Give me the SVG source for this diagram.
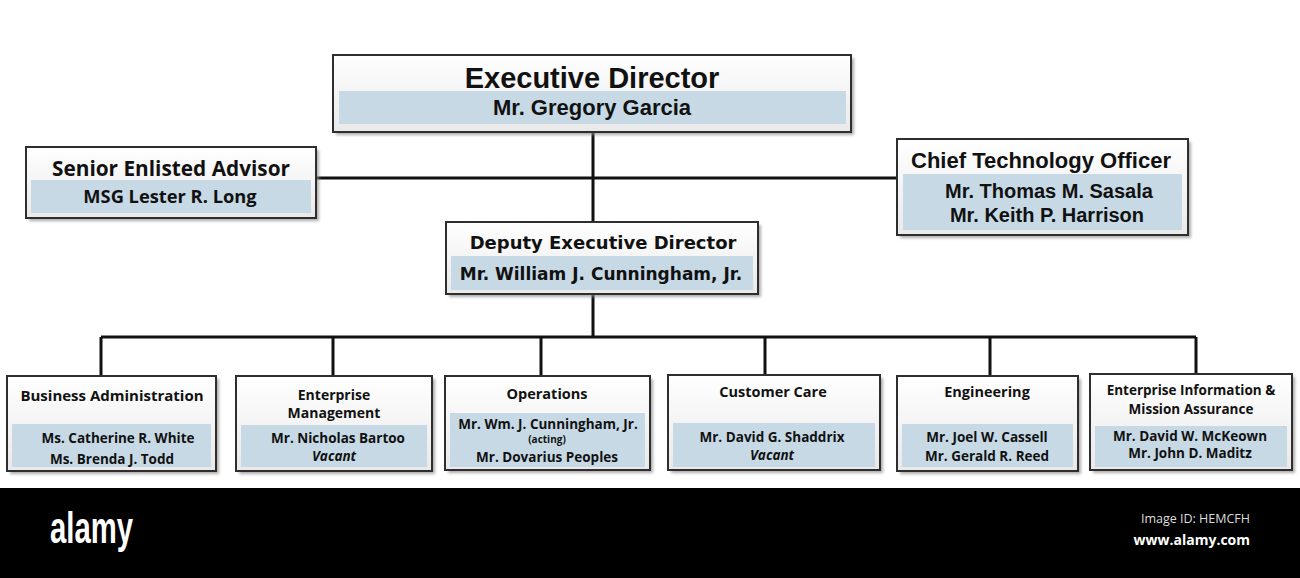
<svg xmlns="http://www.w3.org/2000/svg" width="1300" height="578" viewBox="0 0 1300 578">
<defs>
<linearGradient id="hdr" x1="0" y1="0" x2="0" y2="1">
<stop offset="0" stop-color="#ffffff"/>
<stop offset="1" stop-color="#e9e9e9"/>
</linearGradient>
<filter id="sh" x="-5%" y="-10%" width="115%" height="130%">
<feGaussianBlur stdDeviation="1.5"/>
</filter>
</defs>
<style>
.shadow{fill:#8a8a8a;filter:url(#sh);opacity:0.7}
.box{fill:url(#hdr);stroke:#2e2e2e;stroke-width:2}
.band{fill:#c6d9e5}
.conn{stroke:#111;stroke-width:3;fill:none}
.t{font-family:"Liberation Sans",Arial,sans-serif;font-weight:bold;fill:#111;text-anchor:middle}
.d{font-family:"DejaVu Sans",Verdana,sans-serif;font-weight:bold;fill:#111;text-anchor:middle}
.m{font-family:"Open Sans","Liberation Sans",sans-serif;font-weight:bold;fill:#111;text-anchor:middle}
.i{font-style:italic}
</style>
<rect width="1300" height="578" fill="#ffffff"/>

<g id="connectors">
<path class="conn" d="M593 132V222M316 178H897M593 294V337M101 337H1196M101 337V376M333 337V376M541 337V376M765 337V375M990 337V376M1196 337V374"/>
</g>

<g id="executive-director">
<rect class="shadow" x="336" y="58" width="518" height="77"/>
<rect class="box" x="333" y="55" width="518" height="77"/>
<rect class="band" x="339" y="91" width="507" height="33"/>
<text class="t" x="592" y="88" font-size="29">Executive Director</text>
<text class="t" x="592" y="115" font-size="22">Mr. Gregory Garcia</text>
</g>

<g id="senior-enlisted-advisor">
<rect class="shadow" x="29" y="150" width="290" height="71"/>
<rect class="box" x="26" y="147" width="290" height="71"/>
<rect class="band" x="31" y="180" width="280" height="33"/>
<text class="m" x="171" y="176" font-size="20.8">Senior Enlisted Advisor</text>
<text class="m" x="170" y="203" font-size="18.3">MSG Lester R. Long</text>
</g>

<g id="chief-technology-officer">
<rect class="shadow" x="900" y="142" width="291" height="96"/>
<rect class="box" x="897" y="139" width="291" height="96"/>
<rect class="band" x="903" y="174" width="279" height="56"/>
<text class="t" x="1041" y="168" font-size="22">Chief Technology Officer</text>
<text class="t" x="1049" y="198" font-size="20">Mr. Thomas M. Sasala</text>
<text class="t" x="1047" y="222" font-size="20">Mr. Keith P. Harrison</text>
</g>

<g id="deputy-executive-director">
<rect class="shadow" x="449" y="225" width="312" height="72"/>
<rect class="box" x="446" y="222" width="312" height="72"/>
<rect class="band" x="451" y="256" width="302" height="34"/>
<text class="d" x="603" y="249" font-size="18" style="font-weight:600">Deputy Executive Director</text>
<text class="d" x="601" y="280" font-size="17">Mr. William J. Cunningham, Jr.</text>
</g>

<g id="business-administration">
<rect class="shadow" x="10" y="379" width="209" height="95"/>
<rect class="box" x="7" y="376" width="209" height="95"/>
<rect class="band" x="12" y="424" width="199" height="43"/>
<text class="m" x="112" y="401" font-size="15">Business Administration</text>
<text class="m" x="118" y="443" font-size="13.5">Ms. Catherine R. White</text>
<text class="m" x="112" y="464" font-size="13.5">Ms. Brenda J. Todd</text>
</g>

<g id="enterprise-management">
<rect class="shadow" x="239" y="379" width="196" height="95"/>
<rect class="box" x="236" y="376" width="196" height="95"/>
<rect class="band" x="241" y="425" width="186" height="42"/>
<text class="m" x="334" y="400" font-size="14">Enterprise</text>
<text class="m" x="334" y="418" font-size="14">Management</text>
<text class="m" x="338" y="443" font-size="13.5">Mr. Nicholas Bartoo</text>
<text class="m i" x="334" y="461" font-size="13.5">Vacant</text>
</g>

<g id="operations">
<rect class="shadow" x="448" y="379" width="205" height="94"/>
<rect class="box" x="445" y="376" width="205" height="94"/>
<rect class="band" x="450" y="413" width="195" height="54"/>
<text class="m" x="547" y="399" font-size="14.5">Operations</text>
<text class="m" x="548" y="429" font-size="13.5">Mr. Wm. J. Cunningham, Jr.</text>
<text class="m" x="547" y="443" font-size="10">(acting)</text>
<text class="m" x="547" y="462" font-size="13.5">Mr. Dovarius Peoples</text>
</g>

<g id="customer-care">
<rect class="shadow" x="671" y="378" width="212" height="95"/>
<rect class="box" x="668" y="375" width="212" height="95"/>
<rect class="band" x="673" y="423" width="202" height="44"/>
<text class="m" x="773" y="397" font-size="14.5">Customer Care</text>
<text class="m" x="772" y="442" font-size="13.5">Mr. David G. Shaddrix</text>
<text class="m i" x="772" y="460" font-size="13.5">Vacant</text>
</g>

<g id="engineering">
<rect class="shadow" x="900" y="379" width="181" height="95"/>
<rect class="box" x="897" y="376" width="181" height="95"/>
<rect class="band" x="902" y="424" width="171" height="43"/>
<text class="m" x="987" y="397" font-size="14.5">Engineering</text>
<text class="m" x="987" y="442" font-size="13.5">Mr. Joel W. Cassell</text>
<text class="m" x="987" y="461" font-size="13.5">Mr. Gerald R. Reed</text>
</g>

<g id="enterprise-information-mission-assurance">
<rect class="shadow" x="1093" y="377" width="202" height="96"/>
<rect class="box" x="1090" y="374" width="202" height="96"/>
<rect class="band" x="1095" y="426" width="192" height="41"/>
<text class="m" x="1191" y="395" font-size="13.5">Enterprise Information &amp;</text>
<text class="m" x="1191" y="414" font-size="13.5">Mission Assurance</text>
<text class="m" x="1190" y="441" font-size="13.5">Mr. David W. McKeown</text>
<text class="m" x="1190" y="458" font-size="13.5">Mr. John D. Maditz</text>
</g>

<g id="watermark-bar">
<rect x="0" y="488" width="1300" height="90" fill="#000"/>
<text x="50" y="543" font-family="Liberation Sans Narrow,Liberation Sans,sans-serif" font-weight="bold" font-size="45" fill="#fff" textLength="83" lengthAdjust="spacingAndGlyphs">alamy</text>
<text x="1250" y="523" font-family="Open Sans,DejaVu Sans,sans-serif" font-size="12.5" fill="#ddd" text-anchor="end">Image ID: HEMCFH</text>
<text x="1250" y="545" font-family="Open Sans,DejaVu Sans,sans-serif" font-weight="bold" font-size="14" fill="#fff" text-anchor="end">www.alamy.com</text>
</g>
</svg>
